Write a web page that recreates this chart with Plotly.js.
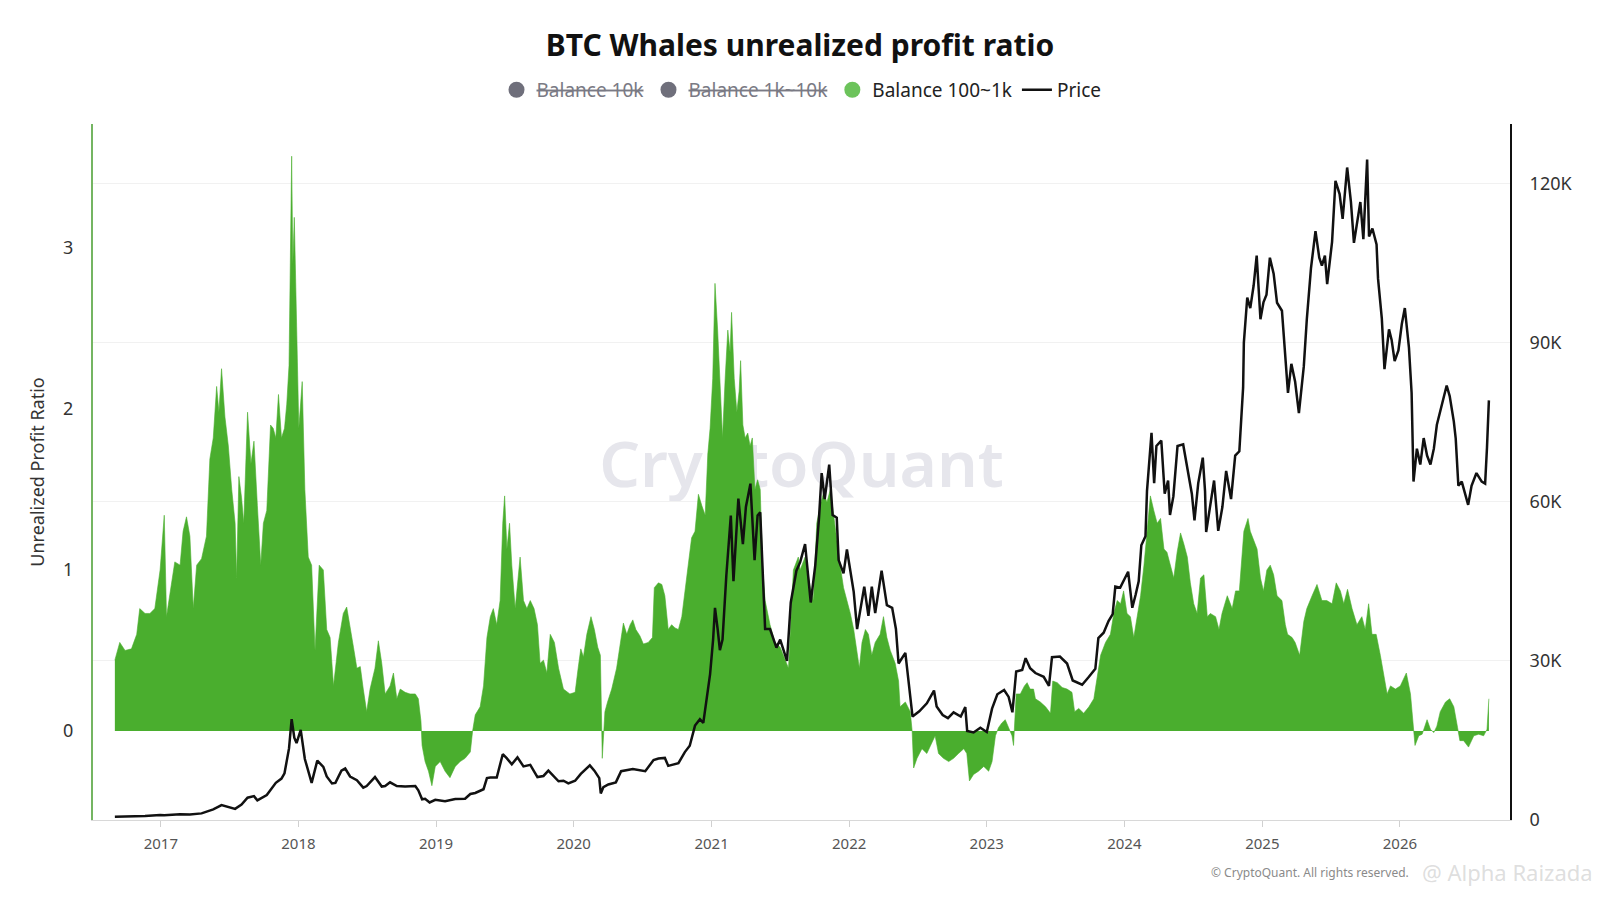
<!DOCTYPE html>
<html>
<head>
<meta charset="utf-8">
<script src="https://cdn.plot.ly/plotly-3.0.1.min.js"></script>
<style>
  html, body { margin: 0; padding: 0; background: #fff; }
  #chart { width: 1600px; height: 900px; }
</style>
</head>
<body>
<div id="chart"></div>
<script>
// unrealized profit ratio, balance 100~1k cohort
const ratioDates = [
  '2016-09-01','2016-09-14','2016-09-28','2016-10-15','2016-10-29','2016-11-06','2016-11-20','2016-12-03','2016-12-16','2016-12-30',
  '2017-01-10','2017-01-16','2017-01-25','2017-02-07','2017-02-21','2017-03-01','2017-03-10','2017-03-19','2017-03-28','2017-04-06',
  '2017-04-19','2017-05-02','2017-05-11','2017-05-20','2017-05-29','2017-06-04','2017-06-11','2017-06-20','2017-06-29','2017-07-08',
  '2017-07-17','2017-07-21','2017-07-27','2017-08-03','2017-08-09','2017-08-19','2017-08-28','2017-09-05','2017-09-14','2017-09-23',
  '2017-09-30','2017-10-09','2017-10-19','2017-10-26','2017-11-02','2017-11-09','2017-11-17','2017-11-25','2017-12-01','2017-12-07',
  '2017-12-14','2017-12-17','2017-12-21','2017-12-27','2018-01-02','2018-01-11','2018-01-18','2018-01-27','2018-02-05','2018-02-14',
  '2018-02-25','2018-03-08','2018-03-17','2018-03-26','2018-04-04','2018-04-17','2018-04-30','2018-05-09','2018-05-18','2018-05-27',
  '2018-06-05','2018-06-14','2018-06-22','2018-07-01','2018-07-10','2018-07-23','2018-08-01','2018-08-10','2018-08-19','2018-09-01',
  '2018-09-10','2018-09-19','2018-09-28','2018-10-11','2018-10-24','2018-11-07','2018-11-15','2018-11-22','2018-11-25','2018-12-03',
  '2018-12-12','2018-12-21','2018-12-30','2019-01-12','2019-01-25','2019-02-07','2019-02-21','2019-03-06','2019-03-19','2019-04-02',
  '2019-04-08','2019-04-15','2019-04-28','2019-05-07','2019-05-16','2019-05-25','2019-06-02','2019-06-11','2019-06-20','2019-06-27',
  '2019-07-02','2019-07-08','2019-07-15','2019-07-21','2019-07-30','2019-08-05','2019-08-12','2019-08-21','2019-08-30','2019-09-08',
  '2019-09-18','2019-09-27','2019-10-04','2019-10-13','2019-10-22','2019-10-31','2019-11-11','2019-11-22','2019-12-05','2019-12-22',
  '2020-01-05','2020-01-13','2020-01-20','2020-01-27','2020-02-05','2020-02-16','2020-02-25','2020-03-05','2020-03-12','2020-03-17',
  '2020-03-24','2020-03-31','2020-04-11','2020-04-24','2020-05-06','2020-05-12','2020-05-21','2020-05-30','2020-06-06','2020-06-14',
  '2020-06-25','2020-07-04','2020-07-17','2020-07-28','2020-08-02','2020-08-13','2020-08-22','2020-08-30','2020-09-08','2020-09-17',
  '2020-09-26','2020-10-05','2020-10-14','2020-10-22','2020-10-31','2020-11-09','2020-11-18','2020-11-27','2020-12-06','2020-12-15',
  '2020-12-22','2020-12-28','2021-01-04','2021-01-10','2021-01-17','2021-01-23','2021-01-30','2021-02-06','2021-02-13','2021-02-19',
  '2021-02-23','2021-03-02','2021-03-09','2021-03-15','2021-03-19','2021-03-25','2021-03-31','2021-04-07','2021-04-13','2021-04-19',
  '2021-04-26','2021-05-03','2021-05-10','2021-05-16','2021-05-23','2021-06-05','2021-06-18','2021-07-02','2021-07-15','2021-07-24',
  '2021-08-06','2021-08-19','2021-08-24','2021-09-06','2021-09-20','2021-09-28','2021-10-07','2021-10-16','2021-10-25','2021-11-03',
  '2021-11-12','2021-11-20','2021-11-29','2021-12-08','2021-12-17','2021-12-26','2022-01-04','2022-01-13','2022-01-21','2022-01-28',
  '2022-02-04','2022-02-13','2022-02-21','2022-03-02','2022-03-11','2022-03-24','2022-04-02','2022-04-11','2022-04-20','2022-05-03',
  '2022-05-12','2022-05-16','2022-05-30','2022-06-12','2022-06-17','2022-06-21','2022-06-30','2022-07-13','2022-07-26','2022-08-08',
  '2022-08-17','2022-08-26','2022-09-08','2022-09-22','2022-10-05','2022-10-18','2022-11-01','2022-11-09','2022-11-16','2022-11-27',
  '2022-12-10','2022-12-24','2023-01-06','2023-01-15','2023-01-24','2023-02-01','2023-02-10','2023-02-19','2023-02-28','2023-03-09',
  '2023-03-13','2023-03-20','2023-03-31','2023-04-11','2023-04-18','2023-04-26','2023-05-05','2023-05-10','2023-05-23','2023-06-06',
  '2023-06-19','2023-06-25','2023-07-07','2023-07-20','2023-08-02','2023-08-15','2023-08-22','2023-09-02','2023-09-15','2023-09-29',
  '2023-10-12','2023-10-21','2023-10-30','2023-11-12','2023-11-25','2023-12-04','2023-12-13','2023-12-22','2023-12-30','2024-01-08',
  '2024-01-17','2024-01-26','2024-02-04','2024-02-13','2024-02-22','2024-03-01','2024-03-10','2024-03-19','2024-03-28','2024-04-06',
  '2024-04-15','2024-04-23','2024-05-02','2024-05-11','2024-05-20','2024-05-29','2024-06-07','2024-06-16','2024-06-24','2024-07-03',
  '2024-07-12','2024-07-21','2024-07-30','2024-08-08','2024-08-16','2024-08-30','2024-09-08','2024-09-16','2024-09-30','2024-10-13',
  '2024-10-22','2024-11-01','2024-11-13','2024-11-24','2024-11-30','2024-12-09','2024-12-18','2024-12-27','2025-01-04','2025-01-13',
  '2025-01-22','2025-01-31','2025-02-09','2025-02-22','2025-03-03','2025-03-09','2025-03-21','2025-03-29','2025-04-10','2025-04-21',
  '2025-04-29','2025-05-13','2025-05-26','2025-06-08','2025-06-21','2025-07-05','2025-07-16','2025-07-27','2025-08-05','2025-08-15',
  '2025-08-27','2025-09-09','2025-09-22','2025-10-01','2025-10-10','2025-10-19','2025-10-30','2025-11-10','2025-11-19','2025-11-28',
  '2025-12-07','2025-12-20','2026-01-02','2026-01-18','2026-01-29','2026-02-05','2026-02-10','2026-02-20','2026-03-01','2026-03-14',
  '2026-03-23','2026-04-01','2026-04-09','2026-04-18','2026-05-02','2026-05-13','2026-05-24','2026-06-03','2026-06-09','2026-06-19',
  '2026-07-02','2026-07-16','2026-07-29','2026-08-11','2026-08-20','2026-08-25'
];
const ratioValues = [
  0.44, 0.55, 0.50, 0.51, 0.60, 0.76, 0.73, 0.73, 0.76, 1.00,
  1.34, 0.71, 0.85, 1.05, 1.03, 1.24, 1.33, 1.21, 0.76, 1.03,
  1.07, 1.21, 1.69, 1.82, 2.14, 1.98, 2.25, 1.95, 1.77, 1.50,
  1.29, 0.95, 1.58, 1.45, 1.29, 1.98, 1.66, 1.80, 1.40, 1.03,
  1.29, 1.37, 1.90, 1.88, 1.82, 2.09, 1.82, 1.88, 2.03, 2.27,
  3.57, 2.90, 3.19, 2.49, 1.88, 2.17, 1.50, 1.08, 1.03, 0.50,
  1.03, 1.00, 0.63, 0.58, 0.28, 0.55, 0.73, 0.77, 0.63, 0.52,
  0.39, 0.40, 0.26, 0.12, 0.26, 0.39, 0.56, 0.42, 0.23, 0.28,
  0.36, 0.20, 0.26, 0.24, 0.23, 0.23, 0.20, 0.06, -0.09, -0.19,
  -0.25, -0.34, -0.22, -0.19, -0.25, -0.29, -0.22, -0.19, -0.17, -0.13,
  0.00, 0.10, 0.15, 0.28, 0.58, 0.71, 0.76, 0.66, 0.81, 1.29,
  1.46, 1.13, 1.29, 1.03, 0.76, 0.92, 1.08, 0.81, 0.76, 0.81,
  0.76, 0.66, 0.42, 0.44, 0.36, 0.60, 0.55, 0.39, 0.26, 0.23,
  0.24, 0.39, 0.51, 0.46, 0.60, 0.71, 0.63, 0.52, 0.47, -0.17,
  0.12, 0.18, 0.26, 0.39, 0.58, 0.67, 0.60, 0.66, 0.69, 0.63,
  0.59, 0.54, 0.55, 0.58, 0.89, 0.92, 0.91, 0.84, 0.63, 0.66,
  0.64, 0.63, 0.71, 0.87, 1.03, 1.20, 1.24, 1.47, 1.40, 1.34,
  1.72, 1.88, 2.19, 2.78, 2.49, 2.14, 1.82, 2.19, 2.49, 2.35,
  2.60, 2.19, 1.98, 2.11, 2.30, 1.90, 1.82, 1.85, 1.77, 1.82,
  1.50, 1.56, 1.50, 1.03, 0.81, 0.66, 0.55, 0.52, 0.44, 0.39,
  1.00, 1.08, 1.00, 1.08, 0.89, 0.81, 1.29, 1.40, 1.48, 1.42,
  1.50, 1.34, 1.19, 1.03, 0.89, 0.81, 0.73, 0.63, 0.50, 0.39,
  0.55, 0.63, 0.60, 0.47, 0.55, 0.60, 0.71, 0.58, 0.50, 0.42,
  0.31, 0.15, 0.18, 0.12, 0.00, -0.23, -0.17, -0.11, -0.14, -0.07,
  -0.03, -0.14, -0.17, -0.19, -0.17, -0.14, -0.11, -0.14, -0.31, -0.27,
  -0.25, -0.22, -0.25, -0.19, -0.03, 0.02, 0.05, 0.07, 0.02, -0.03,
  -0.09, 0.23, 0.23, 0.28, 0.30, 0.26, 0.26, 0.20, 0.18, 0.15,
  0.11, 0.31, 0.30, 0.27, 0.26, 0.24, 0.12, 0.14, 0.11, 0.15,
  0.20, 0.34, 0.47, 0.55, 0.60, 0.73, 0.81, 0.79, 0.87, 0.73,
  0.71, 0.58, 0.71, 0.84, 1.03, 1.24, 1.46, 1.37, 1.29, 1.32,
  1.13, 1.11, 1.03, 0.95, 1.11, 1.23, 1.16, 1.08, 0.92, 0.79,
  0.73, 0.95, 0.97, 0.71, 0.73, 0.71, 0.63, 0.73, 0.84, 0.76,
  0.87, 0.87, 1.24, 1.32, 1.24, 1.19, 1.13, 0.95, 0.87, 1.00,
  1.03, 0.97, 0.84, 0.81, 0.66, 0.60, 0.58, 0.55, 0.47, 0.68,
  0.76, 0.84, 0.91, 0.81, 0.81, 0.79, 0.92, 0.87, 0.79, 0.88,
  0.76, 0.66, 0.71, 0.63, 0.79, 0.60, 0.60, 0.47, 0.34, 0.23,
  0.28, 0.26, 0.28, 0.36, 0.23, 0.05, -0.09, -0.03, -0.02, 0.07,
  0.01, -0.01, 0.03, 0.12, 0.18, 0.20, 0.15, 0.02, -0.06, -0.06,
  -0.10, -0.03, -0.02, -0.03, 0.01, 0.20
];

// BTC price (USD)
const priceDates = [
  '2016-09-01','2016-10-15','2016-11-20','2016-12-30','2017-01-10','2017-02-21','2017-03-19','2017-04-19','2017-05-20','2017-06-11',
  '2017-07-17','2017-08-03','2017-08-19','2017-09-05','2017-09-14','2017-10-09','2017-10-19','2017-11-02','2017-11-17','2017-11-25',
  '2017-12-07','2017-12-14','2017-12-21','2017-12-27','2018-01-07','2018-01-18','2018-02-05','2018-02-20','2018-03-08','2018-03-17',
  '2018-03-31','2018-04-09','2018-04-25','2018-05-05','2018-05-18','2018-06-05','2018-06-22','2018-07-01','2018-07-23','2018-08-10',
  '2018-08-19','2018-09-01','2018-09-19','2018-10-11','2018-11-07','2018-11-15','2018-11-25','2018-12-03','2018-12-15','2018-12-30',
  '2019-01-25','2019-02-21','2019-03-19','2019-04-02','2019-04-15','2019-05-07','2019-05-16','2019-05-25','2019-06-11','2019-06-27',
  '2019-07-08','2019-07-21','2019-08-05','2019-08-21','2019-09-08','2019-09-27','2019-10-13','2019-10-26','2019-11-22','2019-12-05',
  '2019-12-18','2020-01-05','2020-01-20','2020-02-13','2020-02-25','2020-03-09','2020-03-13','2020-03-20','2020-04-02','2020-04-22',
  '2020-05-06','2020-06-06','2020-07-09','2020-07-31','2020-08-13','2020-08-30','2020-09-08','2020-10-05','2020-10-22','2020-11-04',
  '2020-11-18','2020-12-01','2020-12-10','2020-12-20','2020-12-28','2021-01-05','2021-01-10','2021-01-17','2021-01-23','2021-01-30',
  '2021-02-09','2021-02-21','2021-02-28','2021-03-13','2021-03-25','2021-04-02','2021-04-14','2021-04-25','2021-05-03','2021-05-10',
  '2021-05-16','2021-05-23','2021-06-05','2021-06-22','2021-07-02','2021-07-20','2021-07-30','2021-08-14','2021-08-24','2021-09-06',
  '2021-09-21','2021-10-03','2021-10-13','2021-10-20','2021-10-28','2021-11-09','2021-11-18','2021-11-29','2021-12-04','2021-12-17',
  '2021-12-26','2022-01-04','2022-01-13','2022-01-22','2022-02-10','2022-02-21','2022-03-02','2022-03-11','2022-03-28','2022-04-11',
  '2022-04-25','2022-05-05','2022-05-12','2022-05-30','2022-06-13','2022-06-18','2022-07-06','2022-07-26','2022-08-14','2022-08-21',
  '2022-09-06','2022-09-20','2022-10-05','2022-10-24','2022-11-05','2022-11-10','2022-11-27','2022-12-15','2023-01-01','2023-01-15',
  '2023-01-29','2023-02-16','2023-02-28','2023-03-10','2023-03-20','2023-04-05','2023-04-14','2023-04-26','2023-05-10','2023-06-01',
  '2023-06-15','2023-06-23','2023-07-14','2023-08-02','2023-08-17','2023-09-11','2023-09-29','2023-10-16','2023-10-24','2023-11-07',
  '2023-11-20','2023-12-01','2023-12-08','2023-12-21','2024-01-11','2024-01-22','2024-01-31','2024-02-08','2024-02-15','2024-02-26',
  '2024-03-01','2024-03-08','2024-03-13','2024-03-20','2024-03-26','2024-04-08','2024-04-17','2024-04-26','2024-05-01','2024-05-10',
  '2024-05-21','2024-06-05','2024-06-18','2024-06-28','2024-07-05','2024-07-15','2024-07-27','2024-08-02','2024-08-05','2024-08-23',
  '2024-08-26','2024-09-06','2024-09-17','2024-09-27','2024-10-10','2024-10-21','2024-11-01','2024-11-11','2024-11-13','2024-11-22',
  '2024-11-30','2024-12-09','2024-12-17','2024-12-27','2025-01-04','2025-01-12','2025-01-21','2025-01-31','2025-02-09','2025-02-22',
  '2025-03-03','2025-03-10','2025-03-19','2025-03-29','2025-04-08','2025-04-21','2025-04-29','2025-05-10','2025-05-22','2025-06-01',
  '2025-06-08','2025-06-16','2025-06-22','2025-07-05','2025-07-14','2025-07-25','2025-08-02','2025-08-14','2025-08-24','2025-09-01',
  '2025-09-18','2025-09-26','2025-10-06','2025-10-11','2025-10-20','2025-10-31','2025-11-04','2025-11-14','2025-11-21','2025-12-03',
  '2025-12-10','2025-12-18','2025-12-28','2026-01-06','2026-01-14','2026-01-25','2026-02-01','2026-02-05','2026-02-06','2026-02-15',
  '2026-02-24','2026-03-05','2026-03-14','2026-03-23','2026-04-01','2026-04-09','2026-04-22','2026-05-05','2026-05-13','2026-05-24',
  '2026-05-29','2026-06-05','2026-06-14','2026-06-23','2026-07-01','2026-07-10','2026-07-23','2026-08-06','2026-08-15','2026-08-20',
  '2026-08-25'
];
const priceValues = [
  600, 640, 740, 960, 900, 1100, 1050, 1250, 2000, 2800,
  2100, 2900, 4200, 4500, 3700, 4700, 5600, 7000, 7800, 8800,
  13500, 19000, 15500, 14500, 17000, 11500, 7000, 11200, 10000, 8200,
  6900, 7000, 9300, 9700, 8200, 7500, 6100, 6400, 8100, 6300,
  6400, 7100, 6400, 6300, 6400, 5600, 3900, 4000, 3300, 3800,
  3550, 3950, 4000, 4900, 5100, 5800, 7900, 8000, 8000, 12400,
  11600, 10500, 11800, 10100, 10400, 8100, 8300, 9300, 7300, 7400,
  6900, 7400, 8700, 10300, 9300, 7900, 5000, 6200, 6700, 7100,
  9200, 9600, 9200, 11300, 11600, 11700, 10200, 10700, 12800, 14000,
  17800, 19000, 18300, 23500, 27500, 34000, 40000, 36000, 32000, 34000,
  46000, 57400, 45000, 60600, 52000, 59000, 63400, 49000, 57400, 58000,
  47000, 36000, 36000, 32500, 34000, 30000, 41000, 47000, 48600, 52000,
  41000, 48000, 57000, 65400, 60500, 67000, 57500, 57000, 49000, 46500,
  51000, 46500, 43000, 36000, 44000, 38500, 44000, 39000, 47000, 40500,
  40000, 36000, 29500, 31500, 23000, 19500, 20500, 22000, 24400, 21400,
  19800, 19200, 20300, 19500, 21300, 16800, 16500, 17400, 16600, 21000,
  23700, 24500, 23200, 20300, 28000, 28300, 30500, 28600, 27700, 27000,
  25300, 30700, 30800, 29500, 26300, 25500, 27000, 28500, 34300, 35300,
  37500, 38800, 44000, 43800, 46800, 40000, 42500, 45000, 51800, 53500,
  62000, 67500, 73000, 63500, 70500, 71500, 61500, 64000, 57500, 61000,
  70500, 70800, 65500, 61500, 56500, 63500, 68300, 62000, 54300, 62000,
  64000, 54500, 59000, 65800, 60500, 68700, 69500, 81500, 90000, 98500,
  96500, 100800, 106400, 94400, 97600, 99000, 106000, 103000, 97500, 96000,
  86300, 80500, 86000, 82600, 76700, 85500, 94400, 104000, 111000, 106000,
  104500, 106400, 101000, 109000, 120500, 118000, 113300, 123000, 116500, 108800,
  116500, 109500, 124500, 110000, 111500, 108500, 102000, 94500, 85000, 92500,
  90500, 86500, 88500, 93500, 96500, 89000, 80500, 70300, 63800, 70000,
  67000, 72000, 68700, 67000, 70000, 74500, 78300, 81900, 79900, 75100,
  71900, 63000, 63800, 61400, 59400, 63000, 65400, 63800, 63400, 70300,
  79100
];

const priceTickVals = [0, 30000, 60000, 90000, 120000];
const priceTickText = ['0', '30K', '60K', '90K', '120K'];
const legendNames = ['Balance 10k', 'Balance 1k~10k', 'Balance 100~1k'];

const FONT = 'Noto Sans, Open Sans, sans-serif';
const GREEN = '#4aae2e';

function legendOnly(name, color, struck) {
  const label = struck ? `<span style="color:#7a7a84"><s>${name}</s></span>` : name;
  return {
    x: [null], y: [null], type: 'scatter', mode: 'markers', name: label,
    marker: { size: 22, color: color }, hoverinfo: 'skip'
  };
}

const traces = [
  legendOnly(legendNames[0], '#6f6f7b', true),
  legendOnly(legendNames[1], '#6f6f7b', true),
  legendOnly(legendNames[2], '#6cc35b', false),
  {
    x: ratioDates, y: ratioValues, type: 'scatter', mode: 'lines',
    fill: 'tozeroy', fillcolor: GREEN, line: { color: GREEN, width: 0.6 },
    showlegend: false, name: legendNames[2]
  },
  {
    x: priceDates, y: priceValues, type: 'scatter', mode: 'lines', yaxis: 'y2',
    line: { color: '#111', width: 2.5 }, name: 'Price'
  }
];

const layout = {
  width: 1600, height: 900,
  margin: { l: 93, r: 90, t: 124, b: 80 },
  paper_bgcolor: '#fff', plot_bgcolor: '#fff',
  font: { family: FONT, color: '#333' },
  title: {
    text: '<b>BTC Whales unrealized profit ratio</b>',
    font: { size: 30, color: '#111', family: FONT },
    x: 0.5, xanchor: 'center', y: 0.95, yanchor: 'middle'
  },
  showlegend: true,
  legend: {
    orientation: 'h', x: 0.5, xanchor: 'center', y: 1.049, yanchor: 'middle',
    font: { size: 19, color: '#222', family: FONT }, traceorder: 'normal'
  },
  xaxis: {
    type: 'date', range: ['2016-07-05', '2026-10-20'],
    tick0: '2017-01-01', dtick: 'M12', tickformat: '%Y',
    showgrid: false, zeroline: false,
    showline: true, linecolor: '#d8d8d8', linewidth: 1,
    ticks: 'outside', ticklen: 6, tickcolor: '#d0d0d0', ticklabelstandoff: 4,
    tickfont: { size: 15, color: '#555' }
  },
  yaxis: {
    range: [-0.553, 3.77], showgrid: false, zeroline: false,
    showline: true, linecolor: '#74b562', linewidth: 2,
    ticks: '', ticklabelstandoff: 14, dtick: 1,
    tickfont: { size: 18, color: '#333' },
    title: { text: 'Unrealized Profit Ratio', font: { size: 18, color: '#333' }, standoff: 14 }
  },
  yaxis2: {
    overlaying: 'y', side: 'right', range: [0, 131200],
    tickvals: priceTickVals, ticktext: priceTickText,
    showgrid: true, gridcolor: '#f1f1f1', zeroline: false,
    showline: true, linecolor: '#111', linewidth: 2,
    ticks: '', ticklabelstandoff: 14,
    tickfont: { size: 18, color: '#333' }
  },
  shapes: [{
    type: 'rect', xref: 'paper', yref: 'paper', x0: 0.3, x1: 0.7, y0: 0.45, y1: 0.565,
    line: { width: 0 }, fillcolor: 'rgba(0,0,0,0)', layer: 'below',
    label: { text: 'CryptoQuant', textposition: 'middle center',
      font: { size: 64, color: '#e6e6ec', family: FONT, weight: 600 } }
  }],
  annotations: [
    { xref: 'paper', yref: 'paper', x: 0.93, y: -0.075, xanchor: 'right', yanchor: 'middle',
      text: '© CryptoQuant. All rights reserved.', showarrow: false,
      font: { size: 12, color: '#8a8a8a', family: FONT } },
    { xref: 'paper', yref: 'paper', x: 1.06, y: -0.075, xanchor: 'right', yanchor: 'middle',
      text: '@ Alpha Raizada', showarrow: false,
      font: { size: 22, color: 'rgba(170,170,170,0.4)', family: FONT } }
  ]
};

Plotly.newPlot('chart', traces, layout, { displayModeBar: false, staticPlot: true });
</script>
</body>
</html>
